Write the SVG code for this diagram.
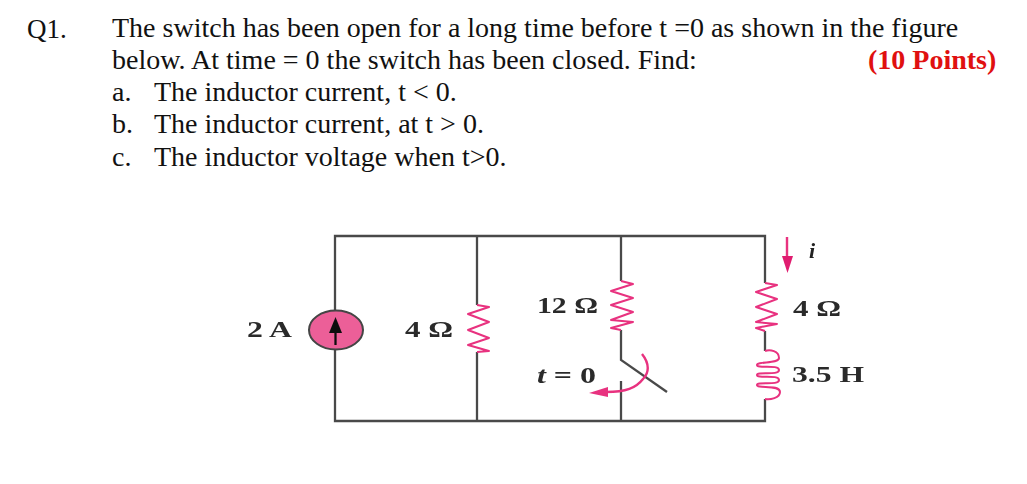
<svg xmlns="http://www.w3.org/2000/svg" width="1027" height="484" viewBox="0 0 1027 484">
<defs>
<filter id="soft" x="-10%" y="-10%" width="120%" height="120%"><feGaussianBlur stdDeviation="0.45"/></filter>
<style>
.t{font-family:"Liberation Serif","Times New Roman",serif;font-size:28px;fill:#111}
.l{font-family:"Liberation Serif","Times New Roman",serif;font-size:24px;font-weight:bold;fill:#2b2b2b}
.w{fill:none;stroke:#4a4a4a;stroke-width:2.3}
.p{fill:none;stroke:#e8317f;stroke-width:2;stroke-linejoin:round}
.s{filter:url(#soft)}
</style>
</defs>
<rect width="1027" height="484" fill="#fff"/>
<g id="question">
<text class="t" x="27" y="38" style="font-size:27px">Q1.</text>
<text class="t" x="112" y="37">The switch has been open for a long time before t =0 as shown in the figure</text>
<text class="t" x="112" y="69">below. At time = 0 the switch has been closed. Find:</text>
<text x="868" y="69" style="font-family:'Liberation Serif',serif;font-size:28px;font-weight:bold;fill:#e01010">(10 Points)</text>
<text class="t" x="112" y="101">a.</text><text class="t" x="154" y="101">The inductor current, t &lt; 0.</text>
<text class="t" x="112" y="133">b.</text><text class="t" x="154" y="133">The inductor current, at t &gt; 0.</text>
<text class="t" x="112" y="166">c.</text><text class="t" x="154" y="166">The inductor voltage when t&gt;0.</text>
</g>
<g id="connectors" class="s">
<path class="w" d="M335 311V236H765V283M335 350V421H765V399M477 236V305M477 352V421M621 236V281M621 330V360L667 392M621 381V421M765 331V351"/>
</g>
<g id="source-2A" class="s">
<ellipse cx="336" cy="330" rx="27" ry="19.500" fill="#ec5f98" stroke="#444" stroke-width="2"/>
<path d="M335.500 345V328" stroke="#111" stroke-width="2.300"/>
<path d="M335.500 317L329 333H342Z" fill="#111"/>
<text class="l" x="247" y="337" textLength="45" lengthAdjust="spacingAndGlyphs">2 A</text>
</g>
<g id="resistor-4-left" class="s">
<path class="p" d="M477 305L489 307L468 314L489 322L468 330L489 338L468 345L489 351L477 352"/>
<text class="l" x="405" y="337" textLength="48" lengthAdjust="spacingAndGlyphs">4 Ω</text>
</g>
<g id="resistor-12" class="s">
<path class="p" d="M621 281L633 284L611 291L633 298L611 305L633 312L611 320L633 322L611 328L621 330"/>
<text class="l" x="537" y="313" textLength="61" lengthAdjust="spacingAndGlyphs">12 Ω</text>
</g>
<g id="switch" class="s">
<path d="M642 354C650 364 649 373 643 379C636 388 626 392 606 392" fill="none" stroke="#e8317f" stroke-width="2.400"/>
<path d="M589 393L608 387V397Z" fill="#e8317f"/>
<text x="537" y="383" textLength="59" lengthAdjust="spacingAndGlyphs" style="font-family:'Liberation Serif',serif;font-size:24px;font-weight:bold;fill:#2b2b2b"><tspan font-style="italic">t</tspan> = 0</text>
</g>
<g id="resistor-4-right" class="s">
<path class="p" d="M765 283L777 285L756 292L777 299L756 307L777 314L756 322L777 324L756 328L765 331"/>
<text class="l" x="793" y="316" textLength="48" lengthAdjust="spacingAndGlyphs">4 Ω</text>
<path d="M787 237V258" stroke="#e8317f" stroke-width="2.400"/>
<path d="M787.500 273L782 256H793Z" fill="#e01f70"/>
<text x="809" y="258" style="font-family:'Liberation Serif',serif;font-size:22px;font-weight:bold;font-style:italic;fill:#222">i</text>
</g>
<g id="inductor" class="s">
<path class="p" d="M765 351C770 349 779 351 779 358C779 364 757 361 757 365C757 369 779 364 779 370C779 376 757 371 757 375C757 379 779 374 779 380C779 386 757 381 757 385C757 389 780 384 780 392C780 398 770 400 765 399"/>
<text class="l" x="792" y="382" textLength="72" lengthAdjust="spacingAndGlyphs">3.5 H</text>
</g>
</svg>
